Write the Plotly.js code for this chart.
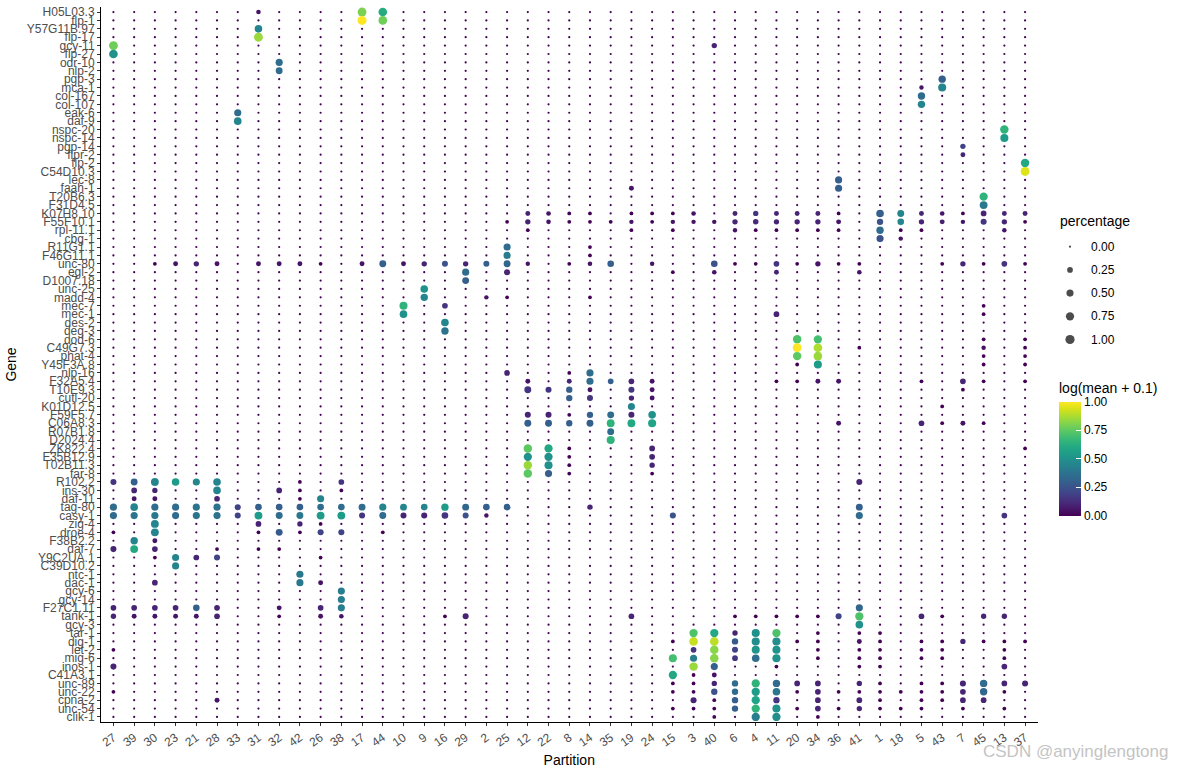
<!DOCTYPE html>
<html>
<head>
<meta charset="utf-8">
<script src="https://cdn.plot.ly/plotly-3.0.1.min.js"></script>
<style>html,body{margin:0;padding:0;background:#fff;}#chart{width:1177px;height:772px;}</style>
</head>
<body>
<div id="chart"></div>
<script>
// Genes, top to bottom
const genes = ["H05L03.3","flp-1","Y57G11B.97","flp-17","gcy-11","flp-27","odr-10","nlp-2","pgp-3","mca-1",
"col-167","col-107","eak-6","daf-9","nspc-20","nspc-14","pgp-14","flpr-2","flp-2","C54D10.3",
"lec-8","faah-1","T20B6.3","F31D4.5","K07H8.10","F55F10.1","rpl-11.1","cbg-1","R11G1.1","F46G11.1",
"unc-80","egl-2","D1007.18","unc-25","madd-4","mec-7","mec-1","des-2","deg-3","dod-6",
"C49G7.3","phat-4","Y45F3A.8","nlp-16","F32A5.4","T10E9.3","cutl-20","K01D12.5","F59F5.7","C06A8.3",
"R07B1.8","D2024.4","ZK822.4","F35B12.9","T02B11.3","far-8","R102.2","ins-30","daf-11","tag-80",
"casy-1","zig-4","droe-4","F38B2.2","daf-7","Y9C2UA.1","C39D10.2","ntc-1","dac-1","gcy-6",
"gcy-14","F27C1.11","tank-1","gcy-3","tar-1","dig-1","let-2","mig-6","inos-1","C41A3.1",
"unc-89","unc-22","cpna-2","unc-54","clik-1"];

// Partitions, left to right
const partitions = ["27","39","30","23","21","28","33","31","32","42","26","38","17","44","10","9","16","29","2","25",
"12","22","8","14","35","19","24","15","3","40","6","4","11","20","34","36","41","1","18","5","43","7","45","13","37"];

// Cells that are not empty: [gene, partition, percentage, log(mean + 0.1)]
// every other cell reads as percentage 0, colour 0 in the picture
const cells = [
["H05L03.3","17",0.9,0.8],["H05L03.3","44",0.85,0.62],["H05L03.3","31",0.12,0.05],
["flp-1","17",0.95,1.0],["flp-1","44",0.85,0.78],
["Y57G11B.97","31",0.6,0.45],
["flp-17","31",0.9,0.85],
["gcy-11","27",0.9,0.78],["gcy-11","40",0.2,0.1],
["flp-27","27",0.85,0.5],
["odr-10","32",0.5,0.35],
["nlp-2","32",0.45,0.35],
["pgp-3","43",0.55,0.3],
["mca-1","43",0.7,0.45],["mca-1","5",0.1,0.05],
["col-167","5",0.55,0.35],
["col-107","5",0.55,0.45],
["eak-6","33",0.5,0.35],
["daf-9","33",0.6,0.45],
["nspc-20","13",0.8,0.65],
["nspc-14","13",0.7,0.55],
["pgp-14","7",0.2,0.2],
["flpr-2","7",0.15,0.1],
["flp-2","37",0.8,0.6],
["C54D10.3","37",0.9,0.95],
["lec-8","36",0.5,0.3],
["faah-1","36",0.5,0.3],["faah-1","19",0.15,0.05],
["T20B6.3","45",0.75,0.65],
["F31D4.5","45",0.65,0.4],
["K07H8.10","12",0.15,0.1],["K07H8.10","22",0.12,0.05],["K07H8.10","8",0.05,0],["K07H8.10","14",0.05,0],["K07H8.10","19",0.05,0],
["K07H8.10","24",0.05,0],["K07H8.10","15",0.05,0],["K07H8.10","3",0.12,0.05],["K07H8.10","6",0.15,0.1],["K07H8.10","4",0.2,0.15],
["K07H8.10","11",0.15,0.1],["K07H8.10","20",0.15,0.1],["K07H8.10","34",0.15,0.1],["K07H8.10","36",0.05,0],["K07H8.10","1",0.6,0.3],
["K07H8.10","18",0.45,0.45],["K07H8.10","5",0.15,0.1],["K07H8.10","43",0.12,0.05],["K07H8.10","7",0.05,0],["K07H8.10","45",0.25,0.1],
["K07H8.10","13",0.15,0.1],["K07H8.10","37",0.15,0.1],
["F55F10.1","25",0.05,0],["F55F10.1","12",0.2,0.1],["F55F10.1","22",0.12,0.05],["F55F10.1","8",0.05,0],["F55F10.1","14",0.05,0],
["F55F10.1","35",0.05,0],["F55F10.1","19",0.1,0.05],["F55F10.1","24",0.05,0],["F55F10.1","15",0.1,0.05],["F55F10.1","3",0.1,0.05],
["F55F10.1","40",0.1,0.05],["F55F10.1","6",0.2,0.1],["F55F10.1","4",0.22,0.12],["F55F10.1","11",0.2,0.1],["F55F10.1","20",0.2,0.1],
["F55F10.1","34",0.2,0.1],["F55F10.1","36",0.15,0.05],["F55F10.1","1",0.35,0.25],["F55F10.1","18",0.4,0.45],["F55F10.1","5",0.2,0.1],
["F55F10.1","43",0.15,0.08],["F55F10.1","7",0.1,0.05],["F55F10.1","45",0.3,0.15],["F55F10.1","13",0.2,0.1],["F55F10.1","37",0.05,0],
["rpl-11.1","12",0.05,0],["rpl-11.1","19",0.05,0],["rpl-11.1","15",0.05,0],["rpl-11.1","6",0.1,0.05],["rpl-11.1","4",0.05,0],
["rpl-11.1","11",0.05,0],["rpl-11.1","20",0.05,0],["rpl-11.1","34",0.05,0],["rpl-11.1","36",0.05,0],["rpl-11.1","1",0.55,0.35],
["rpl-11.1","18",0.05,0],["rpl-11.1","5",0.05,0],["rpl-11.1","13",0.1,0.05],
["cbg-1","1",0.5,0.25],["cbg-1","18",0.1,0.05],
["R11G1.1","25",0.5,0.35],["R11G1.1","14",0.05,0],
["F46G11.1","25",0.5,0.42],["F46G11.1","14",0.05,0],
["unc-80","30",0.05,0],["unc-80","23",0.15,0.05],["unc-80","21",0.2,0.1],["unc-80","28",0.15,0.05],["unc-80","31",0.15,0.05],
["unc-80","32",0.15,0.05],["unc-80","42",0.15,0.05],["unc-80","26",0.05,0],["unc-80","17",0.15,0.05],["unc-80","44",0.45,0.3],
["unc-80","10",0.15,0.05],["unc-80","9",0.2,0.1],["unc-80","16",0.3,0.25],["unc-80","29",0.2,0.1],["unc-80","2",0.3,0.3],
["unc-80","25",0.45,0.33],["unc-80","12",0.1,0.05],["unc-80","8",0.05,0],["unc-80","14",0.12,0.05],["unc-80","35",0.4,0.3],
["unc-80","24",0.1,0.05],["unc-80","40",0.4,0.25],["unc-80","6",0.05,0],["unc-80","4",0.05,0],["unc-80","11",0.25,0.15],
["unc-80","20",0.05,0],["unc-80","34",0.2,0.05],["unc-80","36",0.05,0],["unc-80","41",0.05,0],["unc-80","43",0.05,0],
["unc-80","7",0.2,0.1],["unc-80","45",0.05,0],["unc-80","13",0.25,0.15],["unc-80","37",0.05,0],
["egl-2","29",0.5,0.35],["egl-2","25",0.3,0.1],["egl-2","15",0.05,0],["egl-2","40",0.12,0.05],["egl-2","11",0.15,0.1],["egl-2","41",0.12,0.05],
["D1007.18","29",0.45,0.3],
["unc-25","9",0.6,0.5],
["madd-4","9",0.55,0.45],["madd-4","2",0.1,0.05],["madd-4","25",0.05,0],["madd-4","14",0.05,0],
["mec-7","10",0.7,0.65],["mec-7","16",0.25,0.15],["mec-7","45",0.05,0],
["mec-1","10",0.6,0.5],["mec-1","11",0.25,0.1],["mec-1","45",0.05,0],
["des-2","16",0.6,0.45],
["deg-3","16",0.55,0.38],
["dod-6","20",0.8,0.72],["dod-6","34",0.75,0.7],["dod-6","45",0.05,0],["dod-6","37",0.05,0],
["C49G7.3","20",0.9,1.0],["C49G7.3","34",0.85,0.88],["C49G7.3","41",0.05,0],["C49G7.3","45",0.1,0.05],["C49G7.3","37",0.05,0],
["phat-4","20",0.8,0.75],["phat-4","34",0.85,0.85],["phat-4","45",0.05,0],["phat-4","37",0.05,0],
["Y45F3A.8","20",0.05,0],["Y45F3A.8","34",0.7,0.55],["Y45F3A.8","45",0.05,0],["Y45F3A.8","37",0.05,0],
["nlp-16","25",0.25,0.1],["nlp-16","8",0.05,0],["nlp-16","14",0.5,0.35],
["F32A5.4","12",0.15,0.05],["F32A5.4","8",0.15,0.1],["F32A5.4","14",0.5,0.35],["F32A5.4","35",0.25,0.3],["F32A5.4","19",0.25,0.1],
["F32A5.4","24",0.15,0.05],["F32A5.4","11",0.05,0],["F32A5.4","20",0.05,0],["F32A5.4","34",0.15,0.05],["F32A5.4","36",0.15,0.05],
["F32A5.4","5",0.05,0],["F32A5.4","7",0.25,0.1],["F32A5.4","45",0.05,0],["F32A5.4","37",0.05,0],
["T10E9.3","12",0.45,0.15],["T10E9.3","22",0.3,0.15],["T10E9.3","8",0.35,0.3],["T10E9.3","14",0.15,0.05],["T10E9.3","19",0.3,0.15],
["T10E9.3","24",0.15,0.05],["T10E9.3","7",0.05,0],
["cutl-20","8",0.35,0.3],["cutl-20","14",0.3,0.15],["cutl-20","19",0.2,0.1],["cutl-20","24",0.15,0.05],
["K01D12.5","19",0.5,0.45],["K01D12.5","43",0.05,0],
["F59F5.7","12",0.3,0.1],["F59F5.7","22",0.3,0.1],["F59F5.7","8",0.05,0],["F59F5.7","14",0.35,0.3],["F59F5.7","35",0.45,0.35],
["F59F5.7","19",0.3,0.1],["F59F5.7","24",0.6,0.5],
["C06A8.3","12",0.45,0.3],["C06A8.3","22",0.45,0.3],["C06A8.3","8",0.35,0.3],["C06A8.3","14",0.45,0.3],["C06A8.3","35",0.65,0.65],
["C06A8.3","19",0.65,0.6],["C06A8.3","24",0.7,0.58],["C06A8.3","36",0.15,0.05],["C06A8.3","5",0.25,0.1],["C06A8.3","43",0.05,0],
["C06A8.3","7",0.15,0.05],["C06A8.3","45",0.05,0],
["R07B1.8","35",0.45,0.35],
["D2024.4","35",0.7,0.65],
["ZK822.4","12",0.8,0.75],["ZK822.4","22",0.75,0.6],["ZK822.4","8",0.05,0],["ZK822.4","24",0.25,0.1],["ZK822.4","37",0.05,0],
["F35B12.9","12",0.75,0.5],["F35B12.9","22",0.75,0.5],["F35B12.9","8",0.05,0],["F35B12.9","24",0.25,0.1],
["T02B11.3","12",0.8,0.85],["T02B11.3","22",0.7,0.5],["T02B11.3","8",0.05,0],["T02B11.3","24",0.2,0.1],
["far-8","12",0.8,0.75],["far-8","22",0.5,0.3],["far-8","8",0.05,0],["far-8","24",0.05,0],
["R102.2","27",0.3,0.15],["R102.2","39",0.45,0.3],["R102.2","30",0.65,0.45],["R102.2","23",0.6,0.55],["R102.2","21",0.5,0.45],
["R102.2","28",0.6,0.45],["R102.2","42",0.05,0],["R102.2","38",0.25,0.15],["R102.2","41",0.3,0.1],
["ins-30","39",0.25,0.1],["ins-30","30",0.2,0.1],["ins-30","28",0.6,0.45],["ins-30","32",0.25,0.1],["ins-30","42",0.05,0],["ins-30","38",0.05,0],
["daf-11","39",0.15,0.05],["daf-11","30",0.15,0.05],["daf-11","28",0.25,0.1],["daf-11","42",0.05,0],["daf-11","26",0.5,0.45],
["tag-80","27",0.5,0.35],["tag-80","39",0.6,0.45],["tag-80","30",0.5,0.35],["tag-80","23",0.5,0.35],["tag-80","21",0.5,0.38],
["tag-80","28",0.5,0.38],["tag-80","33",0.3,0.2],["tag-80","31",0.4,0.3],["tag-80","32",0.4,0.3],["tag-80","42",0.4,0.3],
["tag-80","26",0.4,0.35],["tag-80","38",0.4,0.35],["tag-80","17",0.45,0.35],["tag-80","44",0.5,0.45],["tag-80","10",0.45,0.45],
["tag-80","9",0.4,0.45],["tag-80","16",0.55,0.55],["tag-80","29",0.45,0.33],["tag-80","2",0.4,0.3],["tag-80","25",0.4,0.3],
["tag-80","14",0.2,0.1],["tag-80","41",0.45,0.3],
["casy-1","27",0.5,0.35],["casy-1","39",0.5,0.38],["casy-1","30",0.5,0.4],["casy-1","23",0.5,0.35],["casy-1","21",0.5,0.38],
["casy-1","28",0.5,0.38],["casy-1","33",0.3,0.2],["casy-1","31",0.65,0.55],["casy-1","32",0.45,0.35],["casy-1","42",0.45,0.4],
["casy-1","26",0.65,0.55],["casy-1","38",0.65,0.55],["casy-1","17",0.3,0.15],["casy-1","44",0.45,0.35],["casy-1","10",0.3,0.1],
["casy-1","9",0.3,0.1],["casy-1","16",0.4,0.15],["casy-1","29",0.3,0.25],["casy-1","2",0.1,0.05],["casy-1","15",0.3,0.25],
["casy-1","41",0.5,0.35],["casy-1","13",0.25,0.15],
["zig-4","30",0.65,0.45],["zig-4","31",0.25,0.1],["zig-4","42",0.2,0.1],["zig-4","26",0.05,0],
["droe-4","27",0.05,0],["droe-4","30",0.65,0.45],["droe-4","31",0.05,0],["droe-4","32",0.45,0.28],["droe-4","42",0.05,0],
["droe-4","26",0.3,0.2],["droe-4","38",0.3,0.2],["droe-4","44",0.05,0],
["F38B2.2","39",0.55,0.45],["F38B2.2","30",0.15,0.05],
["daf-7","27",0.3,0.1],["daf-7","39",0.65,0.6],["daf-7","30",0.25,0.1],["daf-7","28",0.05,0],["daf-7","31",0.05,0],["daf-7","32",0.05,0],
["Y9C2UA.1","30",0.05,0],["Y9C2UA.1","23",0.5,0.45],["Y9C2UA.1","21",0.25,0.1],["Y9C2UA.1","28",0.3,0.2],["Y9C2UA.1","26",0.05,0],
["C39D10.2","23",0.5,0.45],
["ntc-1","42",0.5,0.4],
["dac-1","30",0.25,0.1],["dac-1","42",0.5,0.4],["dac-1","26",0.15,0.05],
["gcy-6","38",0.5,0.42],
["gcy-14","38",0.5,0.42],
["F27C1.11","27",0.25,0.1],["F27C1.11","39",0.25,0.1],["F27C1.11","30",0.25,0.1],["F27C1.11","23",0.25,0.1],["F27C1.11","21",0.4,0.3],
["F27C1.11","28",0.25,0.1],["F27C1.11","32",0.15,0.05],["F27C1.11","26",0.25,0.1],["F27C1.11","38",0.5,0.42],["F27C1.11","41",0.5,0.33],
["tank-1","27",0.2,0.1],["tank-1","39",0.15,0.05],["tank-1","30",0.15,0.05],["tank-1","23",0.15,0.05],["tank-1","21",0.15,0.05],
["tank-1","28",0.25,0.1],["tank-1","32",0.05,0],["tank-1","26",0.15,0.05],["tank-1","38",0.12,0.05],["tank-1","16",0.05,0],
["tank-1","29",0.3,0.1],["tank-1","19",0.25,0.1],["tank-1","6",0.05,0],["tank-1","4",0.05,0],["tank-1","11",0.05,0],
["tank-1","20",0.05,0],["tank-1","34",0.05,0],["tank-1","36",0.3,0.2],["tank-1","41",0.75,0.72],["tank-1","5",0.25,0.1],
["tank-1","43",0.05,0],["tank-1","45",0.2,0.1],["tank-1","13",0.2,0.1],
["gcy-3","41",0.6,0.5],
["tar-1","3",0.75,0.72],["tar-1","40",0.75,0.6],["tar-1","6",0.2,0.1],["tar-1","4",0.7,0.5],["tar-1","11",0.75,0.72],
["tar-1","34",0.05,0],["tar-1","41",0.05,0],["tar-1","1",0.05,0],
["dig-1","15",0.05,0],["dig-1","3",0.85,0.92],["dig-1","40",0.85,0.9],["dig-1","6",0.35,0.28],["dig-1","4",0.7,0.48],
["dig-1","11",0.7,0.48],["dig-1","20",0.05,0],["dig-1","34",0.05,0],["dig-1","41",0.15,0.05],["dig-1","1",0.05,0],
["dig-1","5",0.05,0],["dig-1","43",0.05,0],["dig-1","7",0.2,0.1],["dig-1","45",0.05,0],["dig-1","13",0.05,0],["dig-1","37",0.05,0],
["let-2","27",0.05,0],["let-2","3",0.25,0.15],["let-2","40",0.8,0.82],["let-2","6",0.3,0.2],["let-2","4",0.7,0.52],["let-2","11",0.7,0.5],
["let-2","34",0.05,0],["let-2","41",0.05,0],["let-2","1",0.05,0],["let-2","5",0.05,0],["let-2","43",0.05,0],["let-2","13",0.05,0],
["mig-6","15",0.7,0.7],["mig-6","3",0.5,0.42],["mig-6","40",0.8,0.82],["mig-6","6",0.25,0.15],["mig-6","4",0.6,0.35],
["mig-6","11",0.7,0.5],["mig-6","34",0.05,0],["mig-6","41",0.05,0],["mig-6","1",0.05,0],["mig-6","5",0.05,0],["mig-6","43",0.05,0],["mig-6","13",0.05,0],
["inos-1","27",0.3,0.1],["inos-1","3",0.8,0.85],["inos-1","40",0.5,0.3],["inos-1","11",0.05,0],["inos-1","41",0.05,0],["inos-1","1",0.05,0],["inos-1","13",0.25,0.1],
["C41A3.1","15",0.75,0.6],["C41A3.1","3",0.05,0],["C41A3.1","40",0.15,0.05],
["unc-89","15",0.05,0],["unc-89","3",0.05,0],["unc-89","40",0.2,0.1],["unc-89","6",0.35,0.35],["unc-89","4",0.75,0.65],
["unc-89","11",0.55,0.35],["unc-89","20",0.25,0.1],["unc-89","34",0.25,0.1],["unc-89","41",0.2,0.1],["unc-89","1",0.05,0],
["unc-89","5",0.05,0],["unc-89","43",0.05,0],["unc-89","7",0.3,0.1],["unc-89","45",0.55,0.35],["unc-89","13",0.25,0.1],["unc-89","37",0.3,0.1],
["unc-22","27",0.05,0],["unc-22","15",0.05,0],["unc-22","3",0.05,0],["unc-22","40",0.35,0.25],["unc-22","6",0.35,0.35],
["unc-22","4",0.75,0.55],["unc-22","11",0.6,0.4],["unc-22","20",0.05,0],["unc-22","34",0.25,0.1],["unc-22","36",0.05,0],
["unc-22","41",0.05,0],["unc-22","1",0.05,0],["unc-22","18",0.05,0],["unc-22","5",0.05,0],["unc-22","43",0.05,0],
["unc-22","7",0.25,0.1],["unc-22","45",0.55,0.33],["unc-22","13",0.05,0],
["cpna-2","28",0.15,0.05],["cpna-2","3",0.3,0.1],["cpna-2","40",0.05,0],["cpna-2","6",0.35,0.3],["cpna-2","4",0.75,0.58],
["cpna-2","11",0.35,0.15],["cpna-2","34",0.25,0.1],["cpna-2","41",0.25,0.1],["cpna-2","1",0.05,0],["cpna-2","5",0.05,0],
["cpna-2","43",0.05,0],["cpna-2","7",0.25,0.1],["cpna-2","45",0.25,0.1],
["unc-54","15",0.05,0],["unc-54","3",0.05,0],["unc-54","40",0.05,0],["unc-54","6",0.35,0.3],["unc-54","4",0.75,0.65],
["unc-54","11",0.7,0.5],["unc-54","20",0.05,0],["unc-54","34",0.25,0.1],["unc-54","36",0.05,0],["unc-54","41",0.2,0.1],
["unc-54","1",0.05,0],["unc-54","18",0.05,0],["unc-54","5",0.05,0],["unc-54","7",0.05,0],["unc-54","13",0.05,0],
["clik-1","40",0.05,0],["clik-1","4",0.75,0.42],["clik-1","11",0.75,0.48],["clik-1","34",0.05,0]
];

// Size legend values
const legendPct = [0, 0.25, 0.5, 0.75, 1];
const colorTicks = [0, 0.25, 0.5, 0.75, 1];

// ---- build full grid ----
const lookup = {};
cells.forEach(c => { lookup[c[0] + "|" + c[1]] = c; });
const xs = [], ys = [], pct = [], expr = [];
genes.forEach(g => {
  partitions.forEach(p => {
    const c = lookup[g + "|" + p];
    xs.push(p); ys.push(g);
    pct.push(c ? c[2] : 0);
    expr.push(c ? c[3] : 0);
  });
});
const sizeOf = v => 2.2 + 7.0 * Math.sqrt(v);

const W = 1177, H = 772, ML = 101, MT = 7, MB = 50;
const plotW = W - ML, plotH = H - MT - MB;
const px2x = px => (px - ML) / plotW;
const px2y = py => 1 - (py - MT) / plotH;

const font = "Liberation Sans, Arial, sans-serif";

const main = {
  type: "scatter", mode: "markers", x: xs, y: ys, xaxis: "x", yaxis: "y",
  hoverinfo: "skip", showlegend: false,
  marker: {
    size: pct.map(sizeOf), color: expr, cmin: 0, cmax: 1, colorscale: "Viridis",
    line: {width: 0}, opacity: 1,
    colorbar: {
      x: px2x(1059), xanchor: "left", xpad: 0, ypad: 0,
      y: px2y(458.7), yanchor: "middle", len: 114, lenmode: "pixels",
      thickness: 22, outlinewidth: 0,
      tickvals: colorTicks, ticktext: colorTicks.map(v => v.toFixed(2)),
      ticks: "inside", ticklen: 5, tickcolor: "#ffffff", tickwidth: 1,
      tickfont: {family: font, size: 12, color: "#000"}
    }
  }
};

const legendDots = {
  type: "scatter", mode: "markers", x: legendPct.map(() => 0.5), y: legendPct.map((v, i) => i),
  xaxis: "x2", yaxis: "y2", hoverinfo: "skip", showlegend: false,
  marker: {size: legendPct.map(sizeOf), color: "#000", line: {width: 0}}
};

const annotations = [
  {text: "percentage", xref: "paper", yref: "paper", x: px2x(1058), y: px2y(221), xanchor: "left", yanchor: "middle",
   showarrow: false, font: {family: font, size: 14, color: "#000"}},
  {text: "log(mean + 0.1)", xref: "paper", yref: "paper", x: px2x(1057), y: px2y(388), xanchor: "left", yanchor: "middle",
   showarrow: false, font: {family: font, size: 14, color: "#000"}},
  {text: "CSDN @anyinglengtong", xref: "paper", yref: "paper", x: px2x(1170), y: px2y(751), xanchor: "right", yanchor: "middle",
   showarrow: false, font: {family: font, size: 17, color: "#c4c4c4"}}
];
legendPct.forEach((v, i) => {
  annotations.push({text: v.toFixed(2), xref: "paper", yref: "y2", x: px2x(1089), y: i, xanchor: "left", yanchor: "middle",
    showarrow: false, font: {family: font, size: 12, color: "#000"}});
});

const layout = {
  width: W, height: H, margin: {l: ML, r: 0, t: MT, b: MB},
  paper_bgcolor: "#fff", plot_bgcolor: "#fff",
  xaxis: {
    domain: [0, px2x(1037.5)], type: "category", categoryorder: "array", categoryarray: partitions,
    range: [-0.6, partitions.length - 0.4], showgrid: false, zeroline: false,
    tickmode: "array", tickvals: partitions, ticktext: partitions,
    showline: true, linecolor: "#000", linewidth: 1, mirror: false,
    ticks: "outside", ticklen: 3, tickcolor: "#333", tickwidth: 1,
    tickangle: -35, tickfont: {family: font, size: 12, color: "#4d4d4d"},
    title: {text: "Partition", font: {family: font, size: 14, color: "#000"}, standoff: 6}
  },
  yaxis: {
    domain: [0, 1], type: "category", categoryorder: "array", categoryarray: genes,
    range: [genes.length - 0.4, -0.6], showgrid: false, zeroline: false,
    tickmode: "array", tickvals: genes, ticktext: genes,
    showline: true, linecolor: "#000", linewidth: 1,
    ticks: "outside", ticklen: 3, tickcolor: "#333", tickwidth: 1,
    tickfont: {family: font, size: 12, color: "#4d4d4d"},
    title: {text: "Gene", font: {family: font, size: 14, color: "#000"}, standoff: 6}
  },
  xaxis2: {domain: [px2x(1060), px2x(1080)], range: [0, 1], anchor: "y2", visible: false, fixedrange: true},
  yaxis2: {domain: [px2y(351.1), px2y(235.1)], range: [4.5, -0.5], anchor: "x2", visible: false, fixedrange: true},
  annotations: annotations
};

Plotly.newPlot("chart", [main, legendDots], layout, {displayModeBar: false, staticPlot: true});
</script>
</body>
</html>
